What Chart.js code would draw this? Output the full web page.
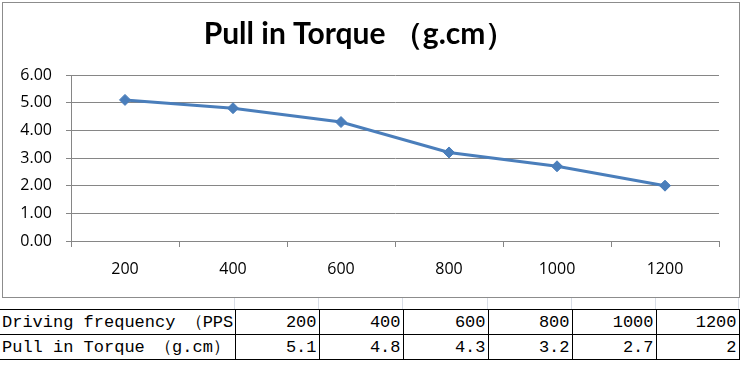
<!DOCTYPE html>
<html>
<head>
<meta charset="utf-8">
<script src="https://cdn.jsdelivr.net/npm/chart.js@4"></script>
<style>
  html, body { margin: 0; padding: 0; background: #fff; }
  body { width: 750px; height: 371px; position: relative; overflow: hidden; }
  #wrap { position: absolute; left: 0; top: 0; width: 750px; height: 300px; }
  table { position: absolute; left: 0; top: 309px; border-collapse: collapse; table-layout: fixed;
          font-family: "Liberation Mono", "DejaVu Sans Mono", monospace; font-size: 17px; color: #000; }
  td { border: 1px solid #000; height: 25px; padding: 0 2px; white-space: nowrap; overflow: hidden; text-align: right; box-sizing: border-box; line-height: 23px; }
  td.first { text-align: left; border-left: none; padding-left: 2px; padding-right: 0; text-overflow: clip; }
  .sg { position: absolute; top: 298px; height: 11px; width: 1px; background: #d8dde6; }
</style>
</head>
<body>
<div id="wrap"><canvas id="c" width="750" height="300"></canvas></div>
<script>
const titleText = 'Pull in Torque \uFF08g.cm\uFF09';
const categories = ['200', '400', '600', '800', '1000', '1200'];
const torque = [5.1, 4.8, 4.3, 3.2, 2.7, 2.0];
const torqueText = ['5.1', '4.8', '4.3', '3.2', '2.7', '2'];
const rowLabels = ['Driving frequency \uFF08PPS\uFF09', 'Pull in Torque \uFF08g.cm\uFF09'];
const yTicks = [0, 1, 2, 3, 4, 5, 6];

const borderPlugin = {
  id: 'outerBorder',
  beforeDraw(chart) {
    const ctx = chart.ctx;
    ctx.save();
    ctx.strokeStyle = '#8c8c8c';
    ctx.lineWidth = 1;
    ctx.strokeRect(2.5, 2.5, 737, 295);
    ctx.restore();
  }
};

new Chart(document.getElementById('c'), {
  type: 'line',
  data: {
    labels: categories,
    datasets: [{
      data: torque,
      borderColor: '#4A7EBB',
      backgroundColor: '#4A7EBB',
      borderWidth: 3,
      pointStyle: 'rectRot',
      pointRadius: 5.5,
      pointBorderWidth: 1,
      pointBorderColor: '#4A7EBB',
      pointBackgroundColor: '#4A7EBB',
      tension: 0,
      clip: false
    }]
  },
  plugins: [borderPlugin],
  options: {
    responsive: false,
    animation: false,
    devicePixelRatio: 1,
    layout: { padding: { left: 0, right: 31, top: 0, bottom: 0 } },
    plugins: {
      legend: { display: false },
      tooltip: { enabled: false },
      title: {
        display: true,
        text: titleText,
        color: '#000',
        font: { family: '"Liberation Sans Narrow", Lato, sans-serif', size: 30, weight: 'bold', lineHeight: 1.2 },
        padding: { top: 16, bottom: 23 }
      }
    },
    scales: {
      x: {
        offset: true,
        grid: { display: true, offset: true, drawOnChartArea: false, drawTicks: true, tickLength: 6, color: '#868686', tickColor: '#868686' },
        border: { display: true, color: '#868686' },
        ticks: { color: '#000', font: { family: '"Open Sans", sans-serif', size: 16 }, padding: 13, maxRotation: 0 },
        afterFit(s) { s.height = 59; }
      },
      y: {
        min: 0, max: 6,
        afterBuildTicks(s) { s.ticks = yTicks.map(v => ({ value: v })); },
        grid: { color: '#868686', tickLength: 5, tickColor: '#868686' },
        border: { display: true, color: '#868686' },
        ticks: { color: '#000', font: { family: '"Open Sans", sans-serif', size: 16 }, padding: 14,
                 callback: v => Number(v).toFixed(2) },
        afterFit(s) { s.width = 71; }
      }
    }
  }
});

// data table
const colW = [235, 84, 84, 85, 84, 84, 83];
const tbl = document.createElement('table');
const cg = document.createElement('colgroup');
colW.forEach(w => { const c = document.createElement('col'); c.style.width = w + 'px'; cg.appendChild(c); });
tbl.appendChild(cg);
[categories, torqueText].forEach((vals, r) => {
  const tr = document.createElement('tr');
  const th = document.createElement('td');
  th.className = 'first';
  th.textContent = rowLabels[r];
  tr.appendChild(th);
  vals.forEach(v => { const td = document.createElement('td'); td.textContent = v; tr.appendChild(td); });
  tbl.appendChild(tr);
});
tbl.style.width = colW.reduce((a, b) => a + b, 0) + 'px';
document.body.appendChild(tbl);

// faint spreadsheet gridlines between chart and table
let x = 0;
colW.forEach(w => { x += w; const d = document.createElement('div'); d.className = 'sg'; d.style.left = (x - 1) + 'px'; document.body.appendChild(d); });
</script>
</body>
</html>
